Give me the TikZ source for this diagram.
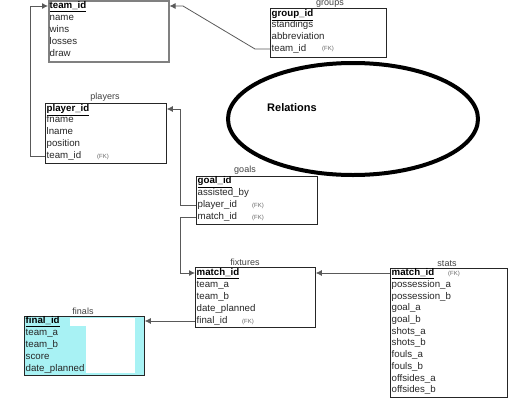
\documentclass[tikz,border=0pt]{standalone}
\usepackage{fontspec}
\setmainfont{Liberation Sans}
\usetikzlibrary{arrows.meta}
\definecolor{finalcyan}{RGB}{168,242,244}

\begin{document}
\begin{tikzpicture}[
	x = 1pt, y = -1pt,
	tbl/.style = {draw = black!85, line width = 0.8pt, anchor = north west, inner sep = 0pt},
	fld/.style = {anchor = west, inner sep = 1.5pt, text height = 7pt, text depth = 2pt,
		font = \fontsize{9.7}{10}\selectfont, text = black!85},
	pk/.style = {fld, font = \fontsize{9.7}{10}\selectfont\bfseries, text = black},
	fk/.style = {anchor = west, inner sep = 0pt, font = \fontsize{6}{6}\selectfont, text = black!60},
	ttl/.style = {anchor = south, inner sep = 1pt, font = \fontsize{9}{10}\selectfont, text = black!75},
	link/.style = {draw = black!65, line width = 0.8pt, -{Latex[length = 6pt, width = 6pt]}}
	]
	\useasboundingbox (0,0) rectangle (523,418);
	% teams
	\node[tbl, draw = black!50, line width = 1.5pt, minimum width = 120pt, minimum height = 61pt] (teams) at (48,0) {};
	\node[pk] (tm-id) at (48,6) {\underline{team\_id}};
	\node[fld] (tm-name) at (48,18) {name};
	\node[fld] (tm-wins) at (48,30) {wins};
	\node[fld] (tm-loss) at (48,42) {losses};
	\node[fld] (tm-draw) at (48,54) {draw};
	% groups
	\node[tbl, minimum width = 116pt, minimum height = 49pt] (groups) at (270,8) {};
	\node[ttl, inner sep = 0pt] (gr-ttl) at (330,8) {groups};
	\node[pk] (gr-id) at (270,14) {\underline{group\_id}};
	\node[fld] (gr-stand) at (270,25) {standings};
	\node[fld] (gr-abbr) at (270,37) {abbreviation};
	\node[fld] (gr-team) at (270,49) {team\_id};
	\node[fk] (gr-fk) at (322,49) {(FK)};
	% players
	\node[tbl, minimum width = 121pt, minimum height = 60pt] (players) at (45,103) {};
	\node[ttl] (pl-ttl) at (105,103) {players};
	\node[pk] (pl-id) at (45,109) {\underline{player\_id}};
	\node[fld] (pl-fname) at (45,120) {fname};
	\node[fld] (pl-lname) at (45,132) {lname};
	\node[fld] (pl-pos) at (45,144) {position};
	\node[fld] (pl-team) at (45,156) {team\_id};
	\node[fk] (pl-fk) at (97,157) {(FK)};
	% goals
	\node[tbl, minimum width = 121pt, minimum height = 48pt] (goals) at (196,176) {};
	\node[ttl] (gl-ttl) at (245,176) {goals};
	\node[pk] (gl-id) at (196,181) {\underline{goal\_id}};
	\node[fld] (gl-assist) at (196,193) {assisted\_by};
	\node[fld] (gl-player) at (196,205) {player\_id};
	\node[fk] (gl-fk1) at (252,206) {(FK)};
	\node[fld] (gl-match) at (196,217) {match\_id};
	\node[fk] (gl-fk2) at (252,218) {(FK)};
	% fixtures
	\node[tbl, minimum width = 120pt, minimum height = 60pt] (fixtures) at (195,267) {};
	\node[ttl] (fx-ttl) at (245,267) {fixtures};
	\node[pk] (fx-id) at (195,273) {\underline{match\_id}};
	\node[fld] (fx-teama) at (195,285) {team\_a};
	\node[fld] (fx-teamb) at (195,297) {team\_b};
	\node[fld] (fx-date) at (195,309) {date\_planned};
	\node[fld] (fx-final) at (195,321) {final\_id};
	\node[fk] (fx-fk) at (242,322) {(FK)};
	% finals
	\node[tbl, fill = finalcyan, minimum width = 120pt, minimum height = 59pt] (finals) at (24,316) {};
	\fill[white] (70,318) rectangle (135,326);
	\fill[white] (86,326) rectangle (135,373);
	\node[ttl] (fn-ttl) at (83,316) {finals};
	\node[pk] (fn-id) at (24,321) {\underline{final\_id}};
	\node[fld] (fn-teama) at (24,333) {team\_a};
	\node[fld] (fn-teamb) at (24,345) {team\_b};
	\node[fld] (fn-score) at (24,357) {score};
	\node[fld] (fn-date) at (24,369) {date\_planned};
	% stats
	\node[tbl, minimum width = 117pt, minimum height = 129pt] (stats) at (390,268) {};
	\node[ttl] (st-ttl) at (447,268) {stats};
	\node[pk] (st-id) at (390,273) {\underline{match\_id}};
	\node[fk] (st-fk) at (448,274) {(FK)};
	\node[fld] (st-pa) at (390,285) {possession\_a};
	\node[fld] (st-pb) at (390,297) {possession\_b};
	\node[fld] (st-ga) at (390,308) {goal\_a};
	\node[fld] (st-gb) at (390,320) {goal\_b};
	\node[fld] (st-sa) at (390,332) {shots\_a};
	\node[fld] (st-sb) at (390,343) {shots\_b};
	\node[fld] (st-fa) at (390,355) {fouls\_a};
	\node[fld] (st-fb) at (390,367) {fouls\_b};
	\node[fld] (st-oa) at (390,379) {offsides\_a};
	\node[fld] (st-ob) at (390,390) {offsides\_b};
	% relations
	\draw[line width = 4pt] (353,119) ellipse [x radius = 125pt, y radius = 56pt];
	\node[font = \fontsize{11}{13}\selectfont\bfseries] (rel) at (292,108) {Relations};
	% links
	\coordinate (gr-bend) at (183,6);
	\draw[link] (pl-team.west) -- ++(-15,0) |- (tm-id.west);
	\draw[link] (gr-team.west) -- ++(-15,0) -- (gr-bend) -- (tm-id.west -| teams.east);
	\draw[link] (gl-player.west) -- ++(-16,0) |- (pl-id.west -| players.east);
	\draw[link] (gl-match.west) -- ++(-16,0) |- (fx-id.west);
	\draw[link] (fx-final.west) -- (fn-id.west -| finals.east);
	\draw[link] (st-id.west) -- (fx-id.west -| fixtures.east);
\end{tikzpicture}
\end{document}
